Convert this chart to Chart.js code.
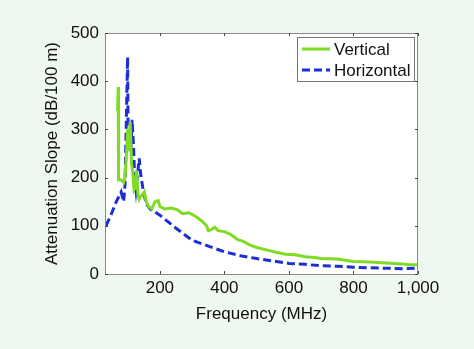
<!DOCTYPE html>
<html>
<head>
<meta charset="utf-8">
<script src="https://cdn.jsdelivr.net/npm/chart.js@4/dist/chart.umd.min.js"></script>
<style>
  html, body { margin: 0; padding: 0; background: #eef7f0; }
  #wrap { width: 474px; height: 349px; }
</style>
</head>
<body>
<div id="wrap"><canvas id="chart" width="474" height="349"></canvas></div>
<script>
// Frequency (MHz) / attenuation slope (dB/100 m)
const verticalFreq = [69, 71, 72, 80, 88, 92, 96, 100, 104, 108, 112, 116, 120, 124, 128, 132, 136, 140, 146, 152, 158, 165, 175, 185, 195, 200, 215, 235, 255, 270, 290, 310, 330, 345, 350, 360, 370, 380, 400, 420, 440, 460, 480, 500, 530, 560, 590, 620, 650, 680, 700, 750, 800, 850, 900, 950, 970, 1000]
const verticalVals = [338, 388, 195, 195, 190, 200, 240, 300, 255, 315, 230, 210, 175, 180, 215, 165, 155, 160, 165, 170, 150, 140, 135, 150, 152, 140, 135, 137, 133, 125, 127, 120, 110, 100, 90, 92, 97, 90, 88, 82, 72, 67, 60, 55, 50, 45, 41, 40, 36, 34, 32, 31, 26, 25, 23, 21, 19, 19]

const horizontalFreq = [33, 50, 65, 80, 88, 92, 100, 102, 106, 110, 114, 118, 122, 126, 130, 136, 140, 148, 158, 170, 200, 250, 300, 350, 400, 450, 500, 550, 600, 650, 700, 750, 800, 850, 900, 950, 1000]
const horizontalVals = [100, 125, 150, 170, 150, 185, 450, 260, 275, 255, 320, 270, 200, 175, 200, 240, 210, 175, 145, 135, 122, 95, 70, 58, 46, 38, 32, 27, 22, 20, 17, 16, 14, 13, 12, 11, 12]

const xTicks = [200, 400, 600, 800, 1000]
const yTicks = [0, 100, 200, 300, 400, 500]

const FONT = "'Liberation Sans', Arial, sans-serif"

function toPoints(xs, ys) {
  return xs.map((x, i) => ({ x: x, y: ys[i] }))
}

// white plot area, grey box, small inward tick marks and the boxed legend
const frame = {
  id: "frame",
  beforeDraw(chart) {
    const { ctx, chartArea: a } = chart
    ctx.save()
    ctx.fillStyle = "#ffffff"
    ctx.fillRect(a.left, a.top, a.right - a.left, a.bottom - a.top)
    ctx.restore()
  },
  afterDraw(chart) {
    const { ctx, chartArea: a, scales } = chart
    ctx.save()
    ctx.strokeStyle = "#8a8a8a"
    ctx.lineWidth = 1
    ctx.strokeRect(a.left + 0.5, a.top + 0.5, a.right - a.left - 1, a.bottom - a.top)
    ctx.strokeStyle = "#444"
    ctx.beginPath()
    xTicks.forEach((v) => {
      const px = Math.round(scales.x.getPixelForValue(v)) + 0.5
      ctx.moveTo(px, a.bottom); ctx.lineTo(px, a.bottom - 3)
      ctx.moveTo(px, a.top); ctx.lineTo(px, a.top + 3)
    })
    yTicks.forEach((v) => {
      const py = Math.round(scales.y.getPixelForValue(v)) + 0.5
      ctx.moveTo(a.left, py); ctx.lineTo(a.left + 3, py)
      ctx.moveTo(a.right, py); ctx.lineTo(a.right - 3, py)
    })
    ctx.stroke()

    // legend
    const bx = 297, by = 37, bw = 117, bh = 44
    ctx.fillStyle = "#ffffff"
    ctx.fillRect(bx, by, bw, bh)
    ctx.strokeStyle = "#777"
    ctx.strokeRect(bx + 0.5, by + 0.5, bw, bh)
    ctx.font = "17px " + FONT
    ctx.textBaseline = "middle"
    chart.data.datasets.forEach((ds, i) => {
      const y = by + 12 + i * 21
      ctx.strokeStyle = ds.borderColor
      ctx.lineWidth = ds.borderWidth
      ctx.setLineDash(ds.borderDash || [])
      ctx.beginPath()
      ctx.moveTo(bx + 5, y); ctx.lineTo(bx + 33, y)
      ctx.stroke()
      ctx.setLineDash([])
      ctx.fillStyle = "#111"
      ctx.fillText(ds.label, bx + 37, y + 1)
    })
    ctx.restore()
  },
}

new Chart(document.getElementById("chart"), {
  type: "line",
  data: {
    datasets: [
      {
        label: "Vertical",
        data: toPoints(verticalFreq, verticalVals),
        borderColor: "#7fdc22",
        borderWidth: 3,
        pointRadius: 0,
        tension: 0,
      },
      {
        label: "Horizontal",
        data: toPoints(horizontalFreq, horizontalVals),
        borderColor: "#1b2fd4",
        borderWidth: 3,
        borderDash: [8, 4],
        pointRadius: 0,
        tension: 0,
      },
    ],
  },
  options: {
    responsive: false,
    animation: false,
    layout: { padding: { left: 42, top: 33, right: 56, bottom: 24 } },
    plugins: { legend: { display: false }, tooltip: { enabled: false } },
    scales: {
      x: {
        type: "linear",
        min: 30,
        max: 1000,
        grid: { display: false, drawTicks: false },
        border: { display: false },
        afterBuildTicks: (scale) => { scale.ticks = xTicks.map((v) => ({ value: v })) },
        ticks: {
          color: "#111",
          padding: 4,
          maxRotation: 0,
          font: { family: FONT, size: 17 },
          callback: (v) => v.toLocaleString("en-US"),
        },
        title: {
          display: true,
          text: "Frequency (MHz)",
          color: "#111",
          font: { family: FONT, size: 17 },
          padding: { top: 4, bottom: 0 },
        },
        afterFit: (scale) => { scale.height = 349 - 274 - 24 },
      },
      y: {
        min: 0,
        max: 500,
        grid: { display: false, drawTicks: false },
        border: { display: false },
        afterBuildTicks: (scale) => { scale.ticks = yTicks.map((v) => ({ value: v })) },
        ticks: {
          color: "#111",
          padding: 6,
          font: { family: FONT, size: 17 },
        },
        title: {
          display: true,
          text: "Attenuation Slope (dB/100 m)",
          color: "#111",
          font: { family: FONT, size: 17 },
          padding: { top: 0, bottom: 4 },
        },
        afterFit: (scale) => { scale.width = 105 - 42 },
      },
    },
  },
  plugins: [frame],
})
</script>
</body>
</html>
